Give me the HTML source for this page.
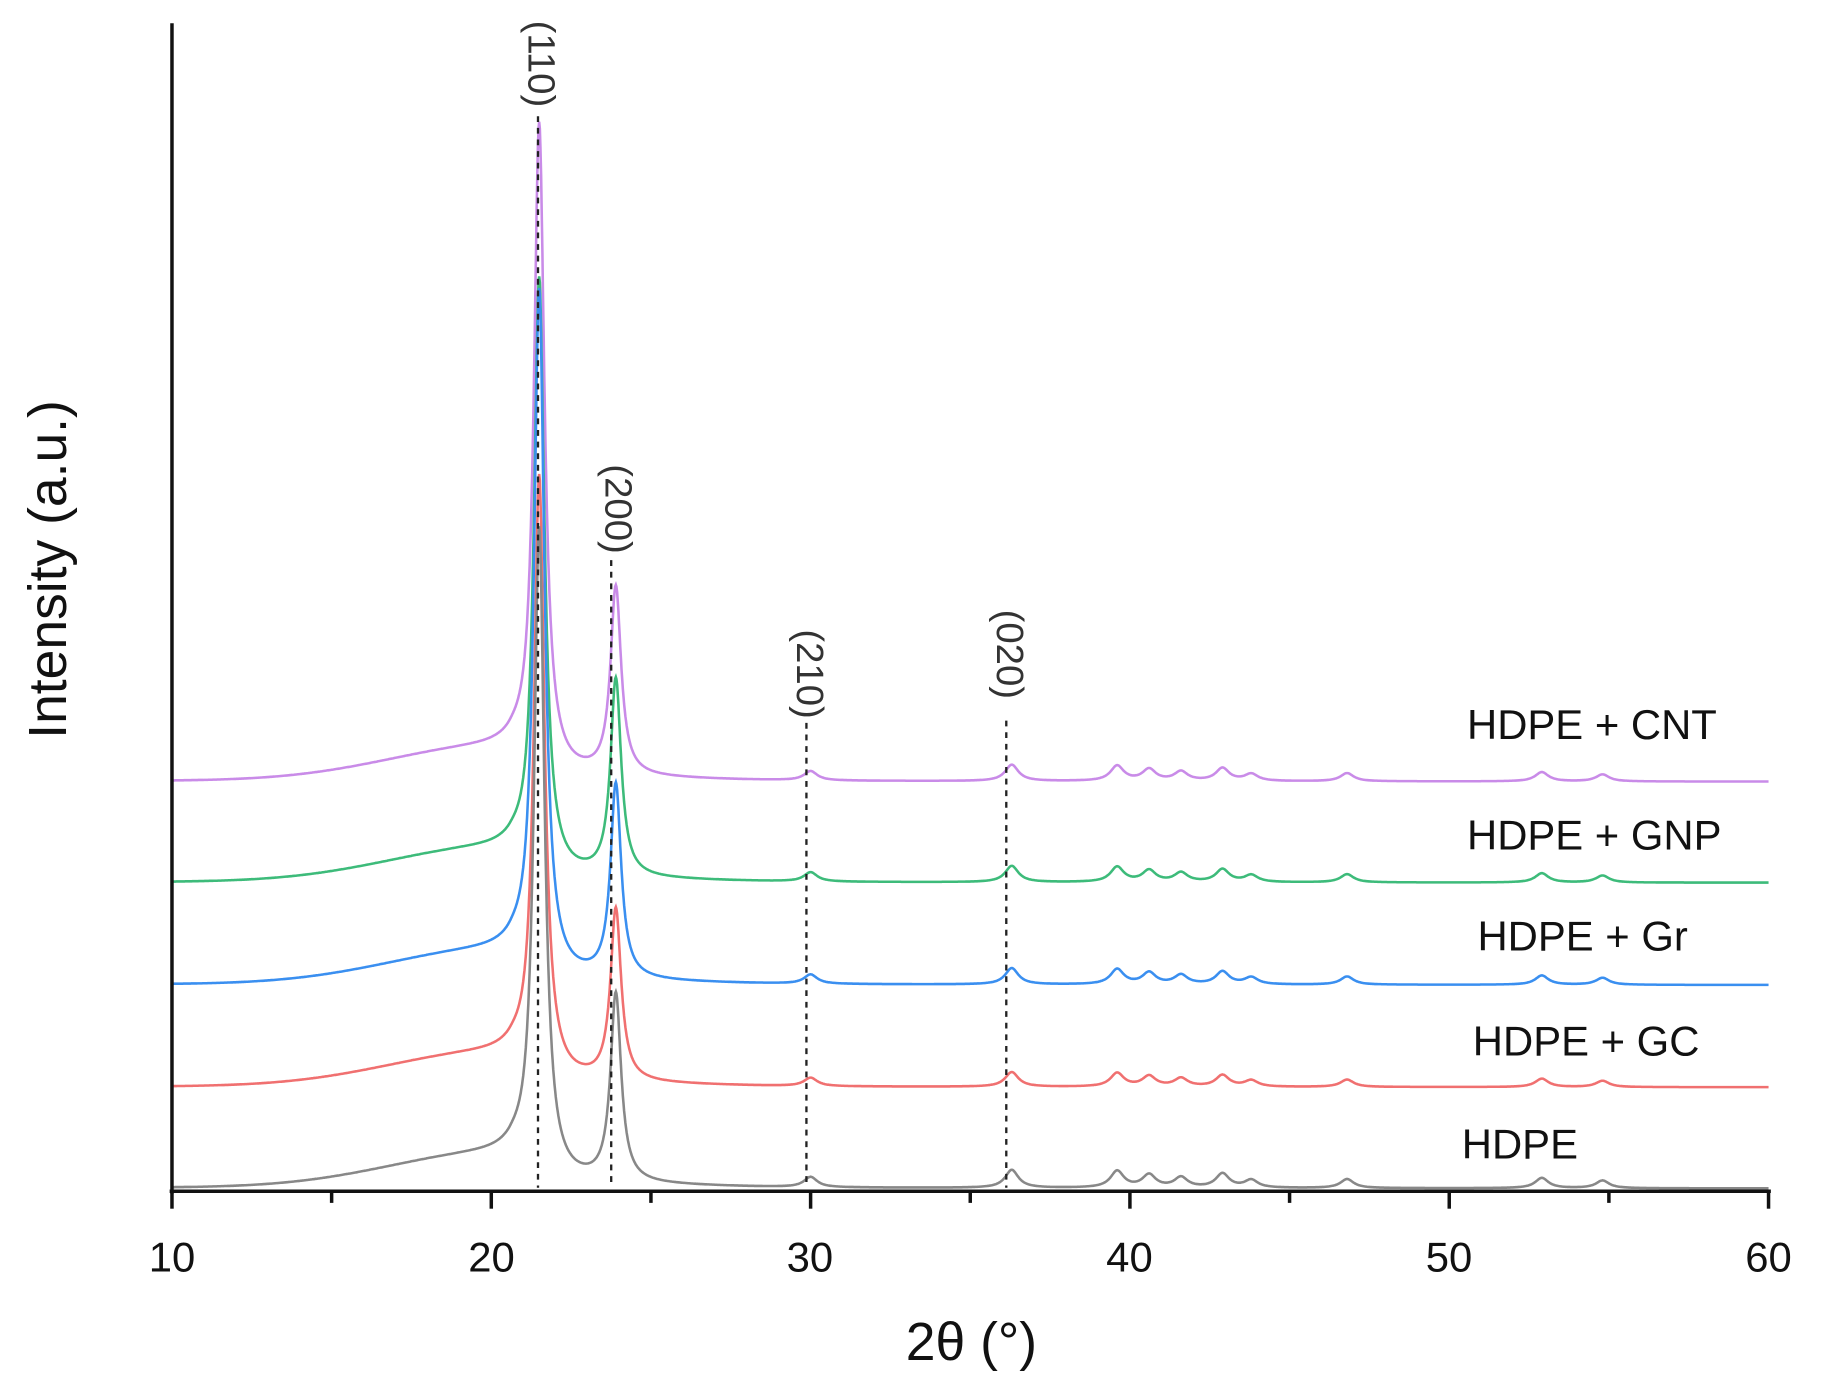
<!DOCTYPE html>
<html><head><meta charset="utf-8"><style>
html,body{margin:0;padding:0;background:#fff;}
svg{display:block;}
text{font-family:"Liberation Sans",Arial,sans-serif;}
</style></head><body>
<svg id="s" width="1822" height="1390" viewBox="0 0 1568 1196" preserveAspectRatio="none" xmlns="http://www.w3.org/2000/svg">
<g id="series" fill="none" stroke-width="2.2"></g>
<g stroke="#222" stroke-width="2" stroke-dasharray="5,5">
<line x1="463" y1="100" x2="463" y2="1022"/>
<line x1="526" y1="482" x2="526" y2="1022"/>
<line x1="694" y1="622" x2="694" y2="1022"/>
<line x1="866" y1="620" x2="866" y2="1022"/>
</g>
<g fill="#333" font-size="33">
<text transform="translate(455,55) rotate(90)" text-anchor="middle">(110)</text>
<text transform="translate(521,438) rotate(90)" text-anchor="middle">(200)</text>
<text transform="translate(686,580) rotate(90)" text-anchor="middle">(210)</text>
<text transform="translate(858,563) rotate(90)" text-anchor="middle">(020)</text>
</g>
<g stroke="#111" stroke-width="3">
<line x1="148" y1="20" x2="148" y2="1027"/>
<line x1="146" y1="1025" x2="1524" y2="1025"/>
</g>
<g id="ticks" stroke="#111" stroke-width="3"></g>
<g font-size="36" fill="#111" text-anchor="middle">
<text x="148" y="1094">10</text><text x="423" y="1094">20</text><text x="697" y="1094">30</text>
<text x="972" y="1094">40</text><text x="1247" y="1094">50</text><text x="1522" y="1094">60</text>
</g>
<text x="836" y="1170" font-size="46" text-anchor="middle" fill="#111">2θ (°)</text>
<text transform="translate(57,490) rotate(-90)" font-size="46" text-anchor="middle" fill="#111">Intensity (a.u.)</text>
<g font-size="36" fill="#111" text-anchor="middle">
<text x="1370" y="636">HDPE + CNT</text>
<text x="1372" y="731">HDPE + GNP</text>
<text x="1362" y="818">HDPE + Gr</text>
<text x="1365" y="908">HDPE + GC</text>
<text x="1308" y="997">HDPE</text>
</g>
</svg>
<script>
var ns="http://www.w3.org/2000/svg";
var t=document.getElementById('ticks');
for(var d=10;d<=60;d+=5){var x=148+(d-10)*27.48;var l=document.createElementNS(ns,'line');
l.setAttribute('x1',x);l.setAttribute('x2',x);l.setAttribute('y1',1025);l.setAttribute('y2',d%10==0?1040:1035);t.appendChild(l);}
var S=[
 {b:672,p1:560,p2:162,c:"#c98be8",s:1.0},
 {b:759,p1:514,p2:170,c:"#3dbb7a",s:1.0},
 {b:847,p1:592,p2:167,c:"#3a8ff0",s:1.0},
 {b:935,p1:520,p2:148,c:"#f07070",s:0.9},
 {b:1022,p1:562,p2:162,c:"#888888",s:1.1}
];
var minor=[[30,8],[36.3,14],[39.6,13],[40.6,10],[41.6,8],[42.9,11],[43.8,6],[46.8,7],[52.9,8],[54.8,6]];
function L(x,c,g){return g*g/((x-c)*(x-c)+g*g);}
var G=document.getElementById('series');
S.forEach(function(s,i){
 var d="";
 for(var x=10;x<=60.001;x+=0.02){
  var y=s.b;
  var h=24*Math.exp(-Math.pow((x-19.8)/3.2,2)/2)*(x<20.6?1:Math.exp(-Math.pow((x-20.6)/0.6,2)))+4*Math.exp(-Math.pow((x-21)/4,2)/2);
  var v=h+s.p1*L(x,21.5,0.2)+s.p2*L(x,23.9,0.2);
  minor.forEach(function(m){v+=m[1]*s.s*L(x,m[0],0.25);});
  y-=v-(x-10)*0.01;
  var px=148+(x-10)*27.48;
  d+=(d?"L":"M")+px.toFixed(1)+","+y.toFixed(1);
 }
 var p=document.createElementNS(ns,'path');p.setAttribute('d',d);p.setAttribute('stroke',s.c);G.appendChild(p);
});
</script>
</body></html>
